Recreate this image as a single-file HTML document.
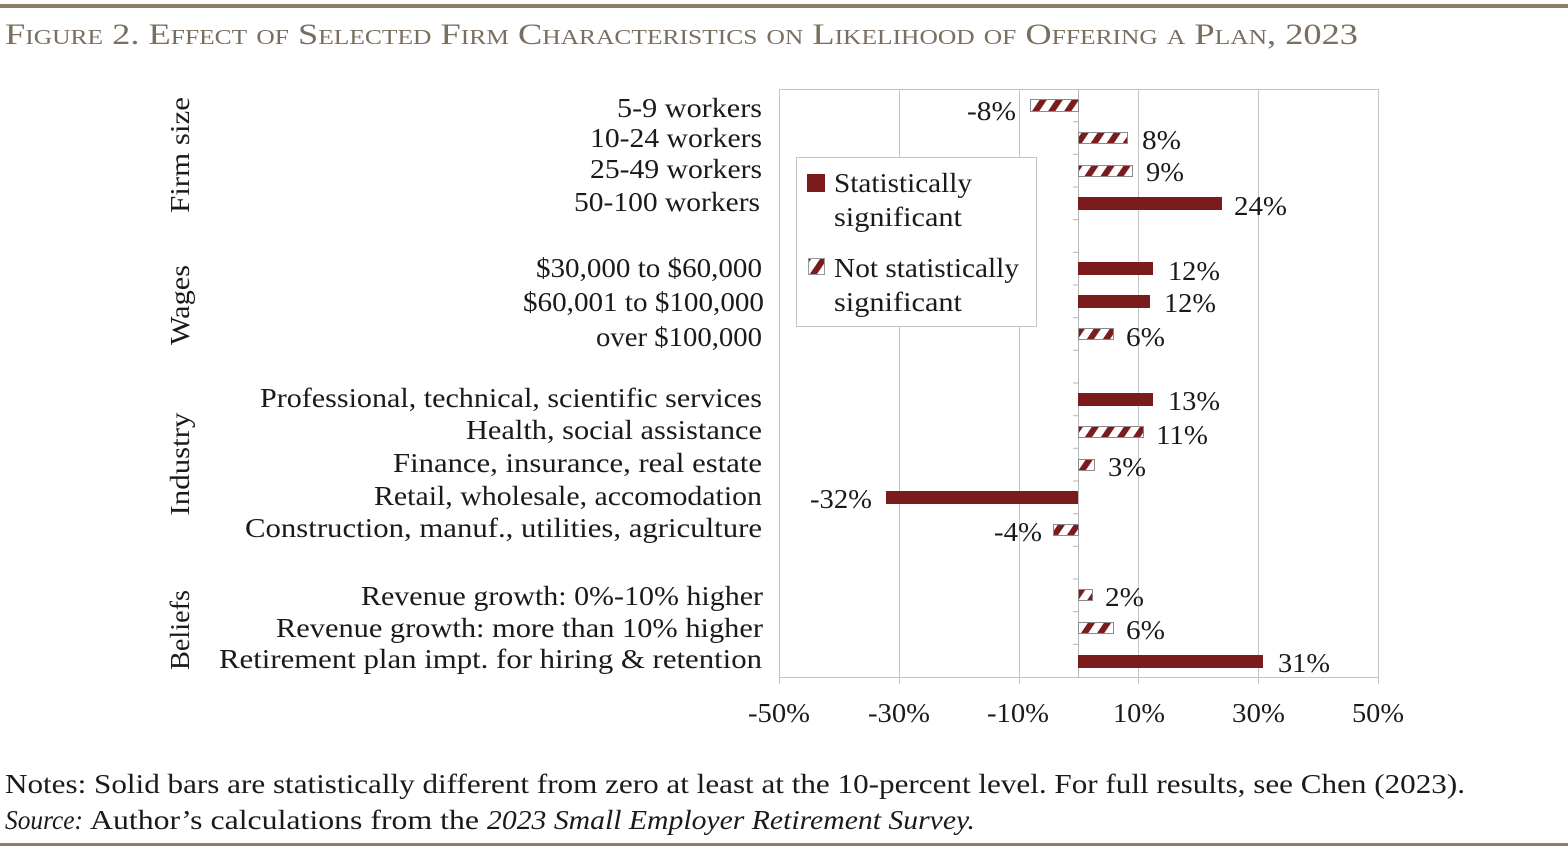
<!DOCTYPE html>
<html>
<head>
<meta charset="utf-8">
<style>
html,body{margin:0;padding:0;background:#fff;}
svg{display:block;}
text{font-family:"Liberation Serif",serif;fill:#1a1a1a;}
</style>
</head>
<body>
<svg width="1568" height="850" viewBox="0 0 1568 850" xmlns="http://www.w3.org/2000/svg">
<defs>
<pattern id="h" patternUnits="userSpaceOnUse" width="13.3" height="20" patternTransform="rotate(34)">
<rect x="0" y="0" width="13.3" height="20" fill="#fff"/>
<rect x="0" y="0" width="6" height="20" fill="#7b1c1c"/>
</pattern>
</defs>
<rect width="1568" height="850" fill="#fff"/>
<!-- top rule -->
<rect x="0" y="4" width="1568" height="4" fill="#8c7f68"/>
<!-- title -->
<text x="5" y="44" font-size="30" style="font-variant:small-caps;fill:#7a6e5e" textLength="1353" lengthAdjust="spacingAndGlyphs">Figure 2. Effect of Selected Firm Characteristics on Likelihood of Offering a Plan, 2023</text>

<!-- plot area -->
<rect x="779.5" y="89.5" width="599" height="588" fill="#fff" stroke="#c4c4c4" stroke-width="1"/>
<g stroke="#c4c4c4" stroke-width="1">
<line x1="899.5" y1="89" x2="899.5" y2="678"/>
<line x1="1019.5" y1="89" x2="1019.5" y2="678"/>
<line x1="1138.5" y1="89" x2="1138.5" y2="678"/>
<line x1="1258.5" y1="89" x2="1258.5" y2="678"/>
<line x1="1378.5" y1="89" x2="1378.5" y2="678"/>
</g>
<!-- bottom axis ticks -->
<g stroke="#c4c4c4" stroke-width="1">
<line x1="779.5" y1="677" x2="779.5" y2="684"/>
<line x1="899.5" y1="677" x2="899.5" y2="684"/>
<line x1="1019.5" y1="677" x2="1019.5" y2="684"/>
<line x1="1138.5" y1="677" x2="1138.5" y2="684"/>
<line x1="1258.5" y1="677" x2="1258.5" y2="684"/>
<line x1="1378.5" y1="677" x2="1378.5" y2="684"/>
</g>

<!-- legend -->
<rect x="796.5" y="157.5" width="240" height="169" fill="#fff" stroke="#c4c4c4" stroke-width="1"/>
<rect x="807" y="174" width="18" height="18" fill="#7b1c1c"/>
<rect x="808.5" y="258.5" width="16" height="16" fill="url(#h)" stroke="#999" stroke-width="1"/>
<text x="834" y="192" font-size="27" textLength="138" lengthAdjust="spacingAndGlyphs">Statistically</text>
<text x="834" y="226" font-size="27" textLength="128" lengthAdjust="spacingAndGlyphs">significant</text>
<text x="834" y="277" font-size="27" textLength="185" lengthAdjust="spacingAndGlyphs">Not statistically</text>
<text x="834" y="311" font-size="27" textLength="128" lengthAdjust="spacingAndGlyphs">significant</text>

<!-- zero axis -->
<line x1="1078.5" y1="89" x2="1078.5" y2="678" stroke="#b8b8b8" stroke-width="1"/>
<g stroke="#b8b8b8" stroke-width="1">
<line x1="1073" y1="121.7" x2="1078" y2="121.7"/>
<line x1="1073" y1="154.3" x2="1078" y2="154.3"/>
<line x1="1073" y1="187" x2="1078" y2="187"/>
<line x1="1073" y1="219.7" x2="1078" y2="219.7"/>
<line x1="1073" y1="252.3" x2="1078" y2="252.3"/>
<line x1="1073" y1="285" x2="1078" y2="285"/>
<line x1="1073" y1="317.7" x2="1078" y2="317.7"/>
<line x1="1073" y1="350.3" x2="1078" y2="350.3"/>
<line x1="1073" y1="383" x2="1078" y2="383"/>
<line x1="1073" y1="415.7" x2="1078" y2="415.7"/>
<line x1="1073" y1="448.3" x2="1078" y2="448.3"/>
<line x1="1073" y1="481" x2="1078" y2="481"/>
<line x1="1073" y1="513.7" x2="1078" y2="513.7"/>
<line x1="1073" y1="546.3" x2="1078" y2="546.3"/>
<line x1="1073" y1="579" x2="1078" y2="579"/>
<line x1="1073" y1="611.7" x2="1078" y2="611.7"/>
<line x1="1073" y1="644.3" x2="1078" y2="644.3"/>
</g>

<!-- bars -->
<!-- hatched -->
<g stroke="#8a8a8a" stroke-width="1" fill="url(#h)">
<rect x="1030.5" y="99.5" width="48" height="12"/>
<rect x="1078.5" y="132.5" width="49" height="11"/>
<rect x="1078.5" y="165.5" width="54" height="11"/>
<rect x="1078.5" y="328.5" width="35" height="11"/>
<rect x="1078.5" y="426.5" width="65" height="11"/>
<rect x="1078.5" y="459.5" width="16" height="11"/>
<rect x="1053.5" y="524.5" width="25" height="11"/>
<rect x="1078.5" y="589.5" width="14" height="11"/>
<rect x="1078.5" y="622.5" width="35" height="11"/>
</g>
<!-- solid -->
<g fill="#7b1c1c">
<rect x="1078" y="197" width="144" height="13"/>
<rect x="1078" y="262" width="75" height="13"/>
<rect x="1078" y="295" width="72" height="13"/>
<rect x="1078" y="393" width="75" height="13"/>
<rect x="886" y="491" width="192" height="13"/>
<rect x="1078" y="655" width="185" height="13"/>
</g>

<!-- value labels -->
<g font-size="27">
<text x="967" y="120" textLength="49" lengthAdjust="spacingAndGlyphs">-8%</text>
<text x="1142" y="149" textLength="39" lengthAdjust="spacingAndGlyphs">8%</text>
<text x="1146" y="181" textLength="38" lengthAdjust="spacingAndGlyphs">9%</text>
<text x="1234" y="215" textLength="53" lengthAdjust="spacingAndGlyphs">24%</text>
<text x="1168" y="280" textLength="52" lengthAdjust="spacingAndGlyphs">12%</text>
<text x="1164" y="312" textLength="52" lengthAdjust="spacingAndGlyphs">12%</text>
<text x="1126" y="346" textLength="39" lengthAdjust="spacingAndGlyphs">6%</text>
<text x="1168" y="410" textLength="52" lengthAdjust="spacingAndGlyphs">13%</text>
<text x="1156" y="444" textLength="52" lengthAdjust="spacingAndGlyphs">11%</text>
<text x="1108" y="476" textLength="38" lengthAdjust="spacingAndGlyphs">3%</text>
<text x="810" y="508" textLength="62" lengthAdjust="spacingAndGlyphs">-32%</text>
<text x="994" y="541" textLength="48" lengthAdjust="spacingAndGlyphs">-4%</text>
<text x="1105" y="606" textLength="39" lengthAdjust="spacingAndGlyphs">2%</text>
<text x="1126" y="639" textLength="39" lengthAdjust="spacingAndGlyphs">6%</text>
<text x="1278" y="672" textLength="52" lengthAdjust="spacingAndGlyphs">31%</text>
</g>

<!-- x tick labels -->
<g font-size="27">
<text x="748" y="722" textLength="62" lengthAdjust="spacingAndGlyphs">-50%</text>
<text x="868" y="722" textLength="62" lengthAdjust="spacingAndGlyphs">-30%</text>
<text x="987" y="722" textLength="62" lengthAdjust="spacingAndGlyphs">-10%</text>
<text x="1113" y="722" textLength="52" lengthAdjust="spacingAndGlyphs">10%</text>
<text x="1232" y="722" textLength="53" lengthAdjust="spacingAndGlyphs">30%</text>
<text x="1352" y="722" textLength="52" lengthAdjust="spacingAndGlyphs">50%</text>
</g>

<!-- category labels -->
<g font-size="27">
<text x="617" y="117" textLength="145" lengthAdjust="spacingAndGlyphs">5-9 workers</text>
<text x="590" y="147" textLength="172" lengthAdjust="spacingAndGlyphs">10-24 workers</text>
<text x="590" y="178" textLength="172" lengthAdjust="spacingAndGlyphs">25-49 workers</text>
<text x="574" y="211" textLength="186" lengthAdjust="spacingAndGlyphs">50-100 workers</text>
<text x="536" y="277" textLength="226" lengthAdjust="spacingAndGlyphs">$30,000 to $60,000</text>
<text x="523" y="311" textLength="241" lengthAdjust="spacingAndGlyphs">$60,001 to $100,000</text>
<text x="596" y="346" textLength="166" lengthAdjust="spacingAndGlyphs">over $100,000</text>
<text x="260" y="407" textLength="502" lengthAdjust="spacingAndGlyphs">Professional, technical, scientific services</text>
<text x="466" y="439" textLength="296" lengthAdjust="spacingAndGlyphs">Health, social assistance</text>
<text x="393" y="472" textLength="369" lengthAdjust="spacingAndGlyphs">Finance, insurance, real estate</text>
<text x="374" y="505" textLength="388" lengthAdjust="spacingAndGlyphs">Retail, wholesale, accomodation</text>
<text x="245" y="537" textLength="517" lengthAdjust="spacingAndGlyphs">Construction, manuf., utilities, agriculture</text>
<text x="361" y="605" textLength="402" lengthAdjust="spacingAndGlyphs">Revenue growth: 0%-10% higher</text>
<text x="276" y="637" textLength="487" lengthAdjust="spacingAndGlyphs">Revenue growth: more than 10% higher</text>
<text x="219" y="668" textLength="543" lengthAdjust="spacingAndGlyphs">Retirement plan impt. for hiring &amp; retention</text>
</g>

<!-- group labels -->
<g font-size="27" text-anchor="middle">
<text transform="translate(189,155) rotate(-90)" textLength="116" lengthAdjust="spacingAndGlyphs">Firm size</text>
<text transform="translate(189,305) rotate(-90)" textLength="80" lengthAdjust="spacingAndGlyphs">Wages</text>
<text transform="translate(189,464) rotate(-90)" textLength="103" lengthAdjust="spacingAndGlyphs">Industry</text>
<text transform="translate(189,630) rotate(-90)" textLength="80" lengthAdjust="spacingAndGlyphs">Beliefs</text>
</g>

<!-- notes -->
<text x="5" y="793" font-size="27" textLength="1460" lengthAdjust="spacingAndGlyphs">Notes: Solid bars are statistically different from zero at least at the 10-percent level.  For full results, see Chen (2023).</text>
<text x="5" y="829" font-size="27" font-style="italic" textLength="78" lengthAdjust="spacingAndGlyphs">Source:</text>
<text x="90" y="829" font-size="27" textLength="389" lengthAdjust="spacingAndGlyphs">Author’s calculations from the</text>
<text x="487" y="829" font-size="27" font-style="italic" textLength="488" lengthAdjust="spacingAndGlyphs">2023 Small Employer Retirement Survey.</text>

<!-- bottom rule -->
<rect x="0" y="843" width="1568" height="3" fill="#8c8060"/>
</svg>
</body>
</html>
